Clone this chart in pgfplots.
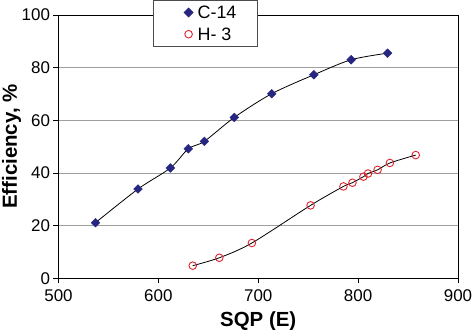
\documentclass[border=0pt]{standalone}
\usepackage{fontspec}
\setmainfont{Liberation Sans}
\usepackage{pgfplots}
\pgfplotsset{compat=1.18}
\definecolor{navyc}{RGB}{38,38,128}
\definecolor{hred}{RGB}{225,35,45}
\pgfplotstableread{
x y
537 21.1
579.6 33.9
612 41.9
630 49.2
646 52.0
676 61.1
713.5 70.1
755.7 77.3
793 83.0
829.5 85.5
}\cfourteen
\pgfplotstableread{
x y
634.4 4.8
661 7.8
693.6 13.4
752.4 27.7
785.3 34.9
794.3 36.3
805.3 38.6
809.9 39.8
819.5 41.2
831.8 43.8
857.7 46.8
}\hthree
\pgfplotsset{myleg/.style={legend image code/.code={\path[draw=none,fill=none] (-33.5bp,-1bp) rectangle (8bp,1bp); \draw[##1] plot coordinates {(0bp,0bp)};}}}
\begin{document}
\begin{tikzpicture}
\begin{axis}[
  scale only axis, width=399.5bp, height=263.3bp,
  xmin=500, xmax=900, ymin=0, ymax=100,
  xtick={500,600,...,900}, ytick={0,20,...,100},
  tick align=outside, tick pos=left, major tick length=5bp,
  ymajorgrids, grid style={gray!75, line width=0.8bp},
  axis line style={line width=0.8bp},
  every tick/.style={black, line width=0.8bp},
  /pgf/number format/assume math mode=true,
  tick label style={font=\fontsize{17}{20}\selectfont},
  xticklabel style={yshift=-3bp},
  every axis x label/.style={at={(axis description cs:0.5,-0.1648)}, anchor=center, font=\fontsize{20.5}{24}\selectfont\bfseries},
  every axis y label/.style={at={(axis description cs:-0.1171,0.5)}, rotate=90, anchor=center, font=\fontsize{20.5}{24}\selectfont\bfseries},
  xlabel={SQP (E)}, ylabel={Efficiency, \%},
  legend style={at={(0.2358,0.8804)}, anchor=south west, draw=black!70, line width=0.8bp, fill=white,
    font=\fontsize{18}{21}\selectfont, inner xsep=2bp, inner ysep=4.8bp, row sep=7.5bp,
    nodes={inner sep=1bp, text height=12.2bp, text depth=0bp}},
  legend cell align=left,
]
\addplot[black, line width=0.8bp, smooth, forget plot] table {\cfourteen};
\addplot[black, line width=0.8bp, smooth, forget plot] table {\hthree};
\addplot[only marks, mark=square*, mark size=3.1bp, mark options={rotate=45, fill=navyc, draw=navyc}, myleg] table {\cfourteen};
\addplot[only marks, mark=o, mark size=3.8bp, mark options={draw=hred, line width=0.9bp}, myleg] table {\hthree};
\legend{C-14\hspace*{18bp}, H- 3}
\end{axis}
\pgfresetboundingbox
\path[use as bounding box] (-58.5bp,-51.7bp) rectangle (415.5bp,278.3bp);
\end{tikzpicture}
\end{document}
